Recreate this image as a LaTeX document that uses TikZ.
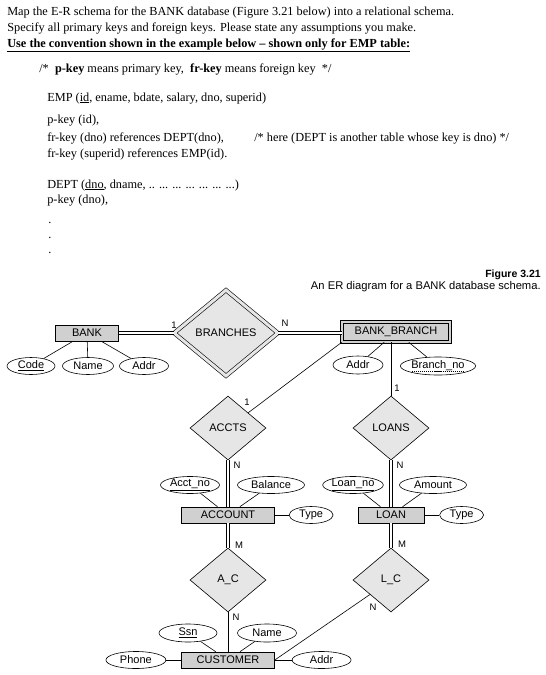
\documentclass[tikz,border=0pt]{standalone}
\usepackage{fontspec}
\setmainfont{Liberation Serif}
\setsansfont{Liberation Sans}
\usetikzlibrary{shapes.geometric,positioning}
\definecolor{entgray}{RGB}{208,208,208}
\definecolor{relgray}{RGB}{230,230,230}
% dashed underline for a partial key
\newcommand{\dashund}[1]{\setbox0=\hbox{#1}\rlap{\raisebox{-2.5pt}[0pt][0pt]{\hbox to \wd0{\xleaders\hbox to 2pt{\hss\rule{1.2pt}{0.4pt}\hss}\hfill}}}\box0}

\begin{document}
\begin{tikzpicture}[x=1pt, y=-1pt, line width=0.6pt,
  txt/.style={anchor=base west, inner sep=0pt, font=\fontsize{12.3}{14}\selectfont},
  ent/.style={draw, fill=entgray, minimum width=#1, minimum height=16pt,
              inner sep=0pt, font=\sffamily\fontsize{11}{12}\selectfont},
  rel/.style={diamond, draw, fill=relgray, minimum width=76pt, minimum height=64pt,
              inner sep=0pt, font=\sffamily\fontsize{11}{12}\selectfont},
  attr/.style={ellipse, draw, fill=white, minimum width=#1, minimum height=17pt,
               inner sep=0pt, font=\sffamily\fontsize{11}{12}\selectfont},
  dbl/.style={double, double distance=2pt},
  card/.style={inner sep=0pt, font=\sffamily\fontsize{9.5}{10}\selectfont}]
\fill[white] (0,0) rectangle (546,675);
\useasboundingbox (0,0) rectangle (546,675);

% the exercise text
\node[txt] (title) at (7,15) {Map the E-R schema for the BANK database (Figure 3.21 below) into a relational schema.};
\node[txt] (spec) at (7,31) {Specify all primary keys and foreign keys. Please state any assumptions you make.};
\node[txt] (conv) at (7,47) {\underline{\textbf{Use the convention shown in the example below \textendash\ shown only for EMP table:}}};
\node[txt] (note) at (39,72) {/*\ \ \textbf{p-key} means primary key,\ \ \textbf{fr-key} means foreign key\ \ */};
\node[txt] (emp) at (47,101) {EMP (\underline{id}, ename, bdate, salary, dno, superid)};
\node[txt] (pkid) at (47,123) {p-key (id),};
\node[txt] (frdno) at (47,141) {fr-key (dno) references DEPT(dno),};
\node[txt] (here) at (254,141) {/* here (DEPT is another table whose key is dno) */};
\node[txt] (frsup) at (47,157) {fr-key (superid) references EMP(id).};
\node[txt] (dept) at (47,188) {DEPT (\underline{dno}, dname, .. ... ... ... ... ... ...)};
\node[txt] (pkdno) at (47,203) {p-key (dno),};
\foreach \y/\n in {223/a,238/b,253/c}
  \node[txt] (dot\n) at (48,\y) {.};

% figure caption
\node[anchor=base east, inner sep=0pt, font=\sffamily\bfseries\fontsize{10.5}{12}\selectfont]
  (fignum) at (541,277) {Figure 3.21};
\node[anchor=base east, inner sep=0pt, font=\sffamily\fontsize{11.2}{12}\selectfont]
  (figcap) at (541,289) {An ER diagram for a BANK database schema.};

% entities and relationships
\node[ent=63pt] (bank) at (87,333) {BANK};
\node[rel, double, double=relgray, double distance=3pt, minimum width=104pt,
      minimum height=86pt] (branches) at (226,333) {BRANCHES};
\node[ent=108pt, minimum height=20pt, double, double=entgray, double distance=2pt]
  (bb) at (396,332) {BANK\_BRANCH};
\node[rel] (accts) at (228,428) {ACCTS};
\node[rel] (loans) at (391,428) {LOANS};
\node[ent=93pt] (account) at (228,515) {ACCOUNT};
\node[ent=66pt] (loan) at (391,515) {LOAN};
\node[rel] (ac) at (228,580) {A\_C};
\node[rel] (lc) at (391,580) {L\_C};
\node[ent=93pt] (customer) at (228,660) {CUSTOMER};

% attributes
\node[attr=48pt] (code) at (31,366) {\underline{Code}};
\node[attr=51pt] (bname) at (88,366) {Name};
\node[attr=49pt] (baddr) at (144,366) {Addr};
\node[attr=50pt, minimum height=18pt] (bbaddr) at (358,365) {Addr};
\node[attr=74pt, minimum height=18pt] (bbno) at (438,366) {\dashund{Branch\_no}};
\node[attr=59pt] (acctno) at (190,485) {\underline{Acct\_no}};
\node[attr=67pt] (balance) at (271,485) {Balance};
\node[attr=44pt, right=14pt of account] (atype) {Type};
\node[attr=60pt] (loanno) at (353,485) {\underline{Loan\_no}};
\node[attr=67pt] (amount) at (433,485) {Amount};
\node[attr=44pt, right=15pt of loan] (ltype) {Type};
\node[attr=58pt, minimum height=18pt] (ssn) at (188,633) {\underline{Ssn}};
\node[attr=59pt, minimum height=18pt] (cname) at (267,633) {Name};
\node[attr=60pt, left=15pt of customer] (phone) {Phone};
\node[attr=59pt, right=17pt of customer] (caddr) {Addr};

% connectors
\draw[dbl] (bank) -- (branches);
\draw[dbl] (branches.east) -- (branches.east -| bb.west);
\draw (bank) -- (code);
\draw (bank) -- (bname);
\draw (bank) -- (baddr);
\draw (bb) -- (bbaddr);
\draw (bb) -- (bbno);
\draw (bb.south west) -- (accts);
\draw (loans |- bb.south) -- (loans);
\draw[dbl] (accts) -- (account);
\draw[dbl] (account) -- (ac);
\draw[dbl] (loans) -- (loan);
\draw[dbl] (loan) -- (lc);
\draw (acctno) -- (account);
\draw (balance) -- (account);
\draw (account) -- (atype);
\draw (loanno) -- (loan);
\draw (amount) -- (loan);
\draw (loan) -- (ltype);
\draw (ac) -- (customer);
\draw (customer.east) -- (lc);
\draw (ssn) -- (customer);
\draw (cname) -- (customer);
\draw (phone) -- (customer);
\draw (customer) -- (caddr);

% cardinalities
\node[card] (k1) at (174,325) {1};
\node[card] (k2) at (285,323) {N};
\node[card] (k3) at (247,402) {1};
\node[card] (k4) at (397,388) {1};
\node[card] (k5) at (237,465) {N};
\node[card] (k6) at (400,465) {N};
\node[card] (k7) at (239,545) {M};
\node[card] (k8) at (402,544) {M};
\node[card] (k9) at (236,617) {N};
\node[card] (k10) at (373,607) {N};
\end{tikzpicture}
\end{document}
